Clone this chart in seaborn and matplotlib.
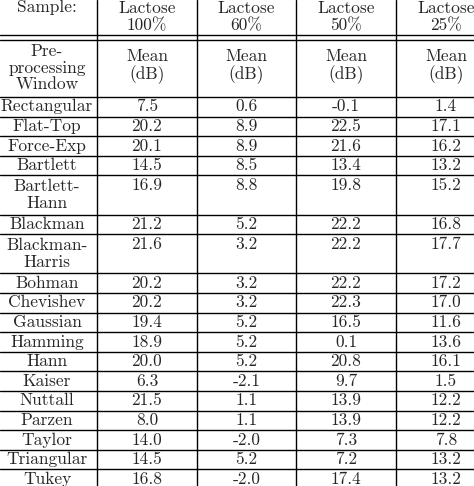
import matplotlib.pyplot as plt
import seaborn as sns

sns.set_theme(style="white")
plt.rcParams["font.family"] = ["cmr10", "DejaVu Serif"]

# ── Table data ───────────────────────────────────────────────────────────────
SAMPLES = ["Lactose\n100%", "Lactose\n60%", "Lactose\n50%", "Lactose\n25%"]
WINDOWS = ["Rectangular", "Flat-Top", "Force-Exp", "Bartlett", "Bartlett-\nHann",
           "Blackman", "Blackman-\nHarris", "Bohman", "Chevishev", "Gaussian",
           "Hamming", "Hann", "Kaiser", "Nuttall", "Parzen", "Taylor",
           "Triangular", "Tukey"]
L100 = [7.5, 20.2, 20.1, 14.5, 16.9, 21.2, 21.6, 20.2, 20.2, 19.4, 18.9, 20.0,
        6.3, 21.5, 8.0, 14.0, 14.5, 16.8]
L60 = [0.6, 8.9, 8.9, 8.5, 8.8, 5.2, 3.2, 3.2, 3.2, 5.2, 5.2, 5.2, -2.1, 1.1,
       1.1, -2.0, 5.2, -2.0]
L50 = [-0.1, 22.5, 21.6, 13.4, 19.8, 22.2, 22.2, 22.2, 22.3, 16.5, 0.1, 20.8,
       9.7, 13.9, 13.9, 7.3, 7.2, 17.4]
L25 = [1.4, 17.1, 16.2, 13.2, 15.2, 16.8, 17.7, 17.2, 17.0, 11.6, 13.6, 16.1,
       1.5, 12.2, 12.2, 7.8, 13.2, 13.2]

# ── Layout (pixels) ──────────────────────────────────────────────────────────
COL_EDGES = [0, 97, 197, 296, 396, 496]
UNIT = 19.6
FS = 12.5

fig = plt.figure(figsize=(4.74, 4.86), dpi=100)
ax = fig.add_axes([0, 0, 1, 1])
ax.set_xlim(0, 474)
ax.set_ylim(486, 0)
ax.axis("off")

lw = 1.0
for x in COL_EDGES[1:-1]:
    ax.axvline(x, color="black", lw=lw)
ax.axhline(35, color="black", lw=lw)
ax.axhline(40, color="black", lw=lw)

centers = [(COL_EDGES[i] + COL_EDGES[i + 1]) / 2 for i in range(5)]
centers[0] = 47

# header rows
ax.text(centers[0], 7, "Sample:", ha="center", va="center", fontsize=FS)
for c, s in zip(centers[1:], SAMPLES):
    ax.text(c, 17, s, ha="center", va="center", fontsize=FS, linespacing=1.15)
ax.text(centers[0], 68, "Pre-\nprocessing\nWindow", ha="center", va="center",
        fontsize=FS, linespacing=1.1)
for c in centers[1:]:
    ax.text(c, 49, "Mean\n(dB)", ha="top" if False else "center", va="top",
            fontsize=FS, linespacing=1.1)
ax.axhline(97, color="black", lw=lw)

y = 97
for i, w in enumerate(WINDOWS):
    h = UNIT * 2 if "\n" in w else UNIT
    ax.text(centers[0], y + h / 2, w, ha="center", va="center", fontsize=FS,
            linespacing=1.1)
    for c, vals in zip(centers[1:], [L100, L60, L50, L25]):
        ax.text(c, y + UNIT / 2, f"{vals[i]:.1f}", ha="center", va="center",
                fontsize=FS)
    y += h
    ax.axhline(y, color="black", lw=lw)

fig.savefig("out.png", dpi=100, facecolor="white")
